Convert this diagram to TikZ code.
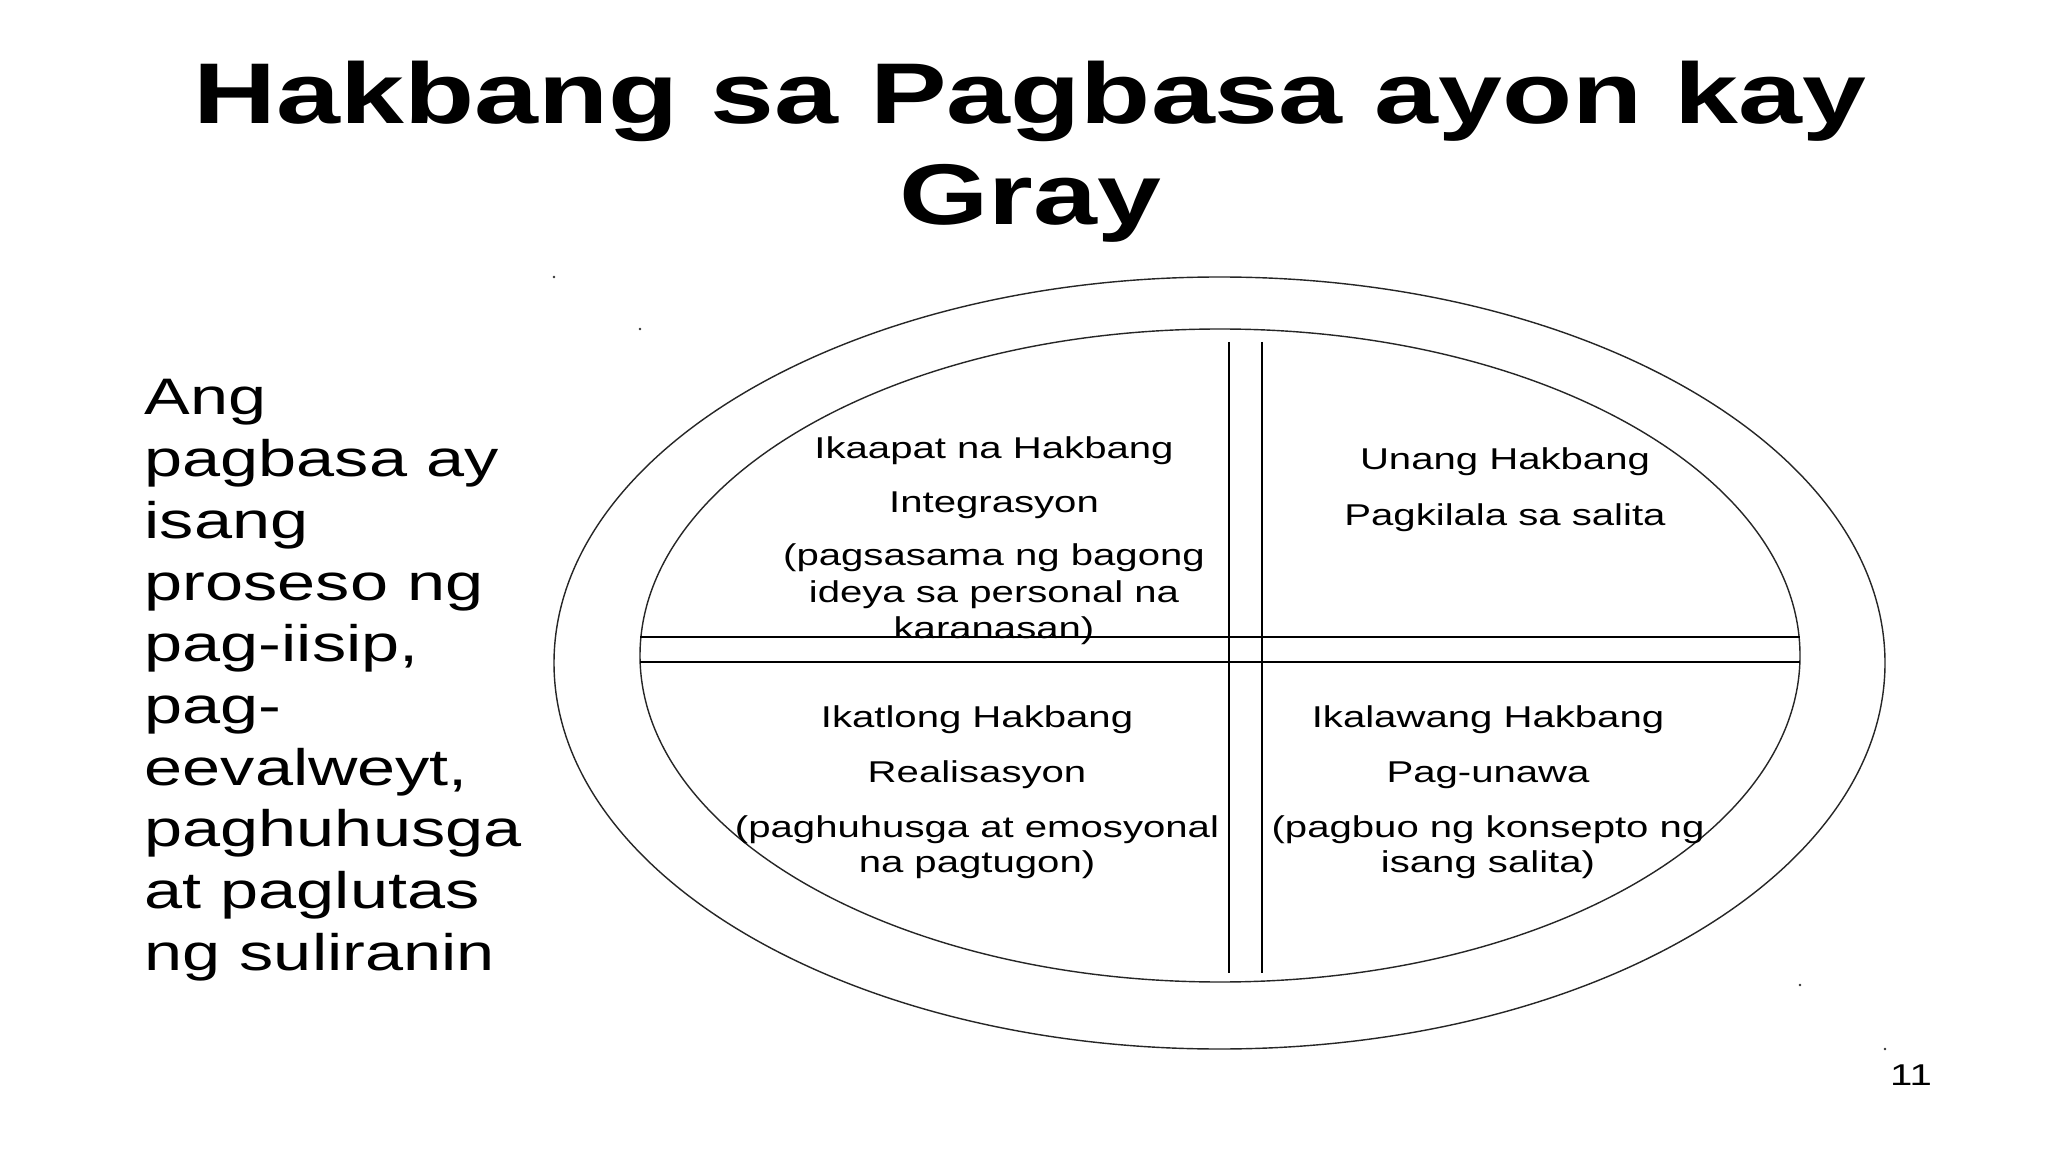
\documentclass[tikz,border=0pt]{standalone}
\usepackage{fontspec}
\setmainfont{Liberation Sans}
\newfontfamily\wide[FakeStretch=1.333]{Liberation Sans}
\begin{document}
\begin{tikzpicture}[x=0.01cm,y=-0.01cm,
  titletxt/.style={font=\wide\bfseries\fontsize{24.5pt}{29pt}\selectfont, anchor=base, inner sep=0pt},
  lefttxt/.style={font=\wide\fontsize{14.6pt}{17.6pt}\selectfont, anchor=base west, inner sep=0pt},
  qtxt/.style={font=\wide\fontsize{8.56pt}{10pt}\selectfont, anchor=base, inner sep=0pt},
  ring/.style={draw=black!85, line width=0.4pt},
  divider/.style={draw=black, line width=0.55pt},
  speck/.style={fill=black!80}]
\useasboundingbox[fill=white] (0,0) rectangle (2048,1152);

% title
\node[titletxt] (t1) at (1030,124) {Hakbang sa Pagbasa ayon kay};
\node[titletxt] (t2) at (1030,225) {Gray};

% left text
\foreach \txt [count=\i] in {Ang,pagbasa ay,isang,proseso ng,pag-iisip{,},pag-,eevalweyt{,},paghuhusga,at paglutas,ng suliranin}
  \node[lefttxt] (l\i) at (144,{415+61.7*(\i-1)}) {\txt};

% ellipses
\draw[ring] (1219.5,663) ellipse [x radius=665.5, y radius=386];
\draw[ring] (1220,655.5) ellipse [x radius=580, y radius=326.5];

% dividers
\draw[divider] (1229,342) -- (1229,973);
\draw[divider] (1262,342) -- (1262,973);
\draw[divider] (640,637) -- (1800,637);
\draw[divider] (640,662) -- (1800,662);

% specks at ellipse box corners
\fill[speck] (554,277) circle (1.3);
\fill[speck] (640,329) circle (1.3);
\fill[speck] (1800,985) circle (1.3);
\fill[speck] (1885,1049) circle (1.3);

% top-left quadrant
\node[qtxt] (q4a) at (994,459) {Ikaapat na Hakbang};
\node[qtxt] (q4b) at (994,512) {Integrasyon};
\node[qtxt] (q4c) at (994,566) {(pagsasama ng bagong};
\node[qtxt] (q4d) at (994,603) {ideya sa personal na};
\node[qtxt] (q4e) at (994,639) {karanasan)};

% top-right quadrant
\node[qtxt] (q1a) at (1505,470) {Unang Hakbang};
\node[qtxt] (q1b) at (1505,525) {Pagkilala sa salita};

% bottom-left quadrant
\node[qtxt] (q3a) at (977,727) {Ikatlong Hakbang};
\node[qtxt] (q3b) at (977,782) {Realisasyon};
\node[qtxt] (q3c) at (977,837) {(paghuhusga at emosyonal};
\node[qtxt] (q3d) at (977,872) {na pagtugon)};

% bottom-right quadrant
\node[qtxt] (q2a) at (1488,727) {Ikalawang Hakbang};
\node[qtxt] (q2b) at (1488,782) {Pag-unawa};
\node[qtxt] (q2c) at (1488,837) {(pagbuo ng konsepto ng};
\node[qtxt] (q2d) at (1488,872) {isang salita)};

% page number
\node[qtxt] (pg) at (1911,1085) {11};
\end{tikzpicture}
\end{document}
